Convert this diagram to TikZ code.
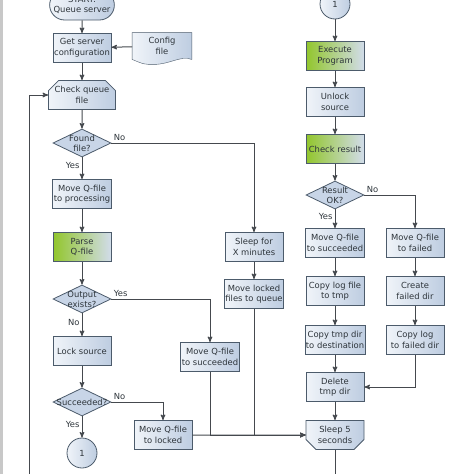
\documentclass[tikz,border=0pt]{standalone}
\usepackage{fontspec}
\setmainfont{DejaVu Sans}
\usepackage{xcolor}
\usetikzlibrary{arrows,shapes.geometric,shapes.misc}
\tikzset{font={\fontsize{8.4pt}{10.5}\selectfont}}
\definecolor{linegray}{HTML}{45494E}
\definecolor{boxedge}{HTML}{4C5B6B}
\definecolor{boxlight}{HTML}{F0F4F9}
\definecolor{boxdark}{HTML}{BECDE1}
\definecolor{leafgreen}{HTML}{92C62C}
\definecolor{diafill}{HTML}{C8D5E7}
\definecolor{framegray}{HTML}{C8C8C8}
\definecolor{textgray}{HTML}{2E353B}
\pgfdeclarelayer{back}
\pgfsetlayers{back,main}
\newcommand{\dtext}[1]{\smash{\makebox[0pt]{\raisebox{-3.5pt}{\begin{tabular}{@{}c@{}}#1\end{tabular}}}}}

\begin{document}
\begin{tikzpicture}[->,>=stealth',x=1pt,y=-1pt,node distance=51pt,thick,
    box/.style={rectangle,draw=boxedge,left color=boxlight,right color=boxdark,text=textgray,
      minimum width=58pt,minimum height=29pt,inner sep=1pt,align=center},
    green box/.style={box,left color=leafgreen,right color=boxdark!70!white},
    loop box/.style={box,chamfered rectangle,chamfered rectangle xsep=5pt,chamfered rectangle ysep=5pt},
    decision/.style={diamond,draw=boxedge,fill=diafill,text=textgray,minimum width=58pt,
      minimum height=28pt,inner sep=0pt},
    link/.style={circle,draw=boxedge,left color=boxlight,right color=boxdark,text=textgray,
      minimum size=30pt,inner sep=0pt},
    terminal/.style={rounded rectangle,draw=boxedge,left color=boxlight,right color=boxdark,
      text=textgray,minimum width=58pt,minimum height=30pt,inner sep=1pt,align=center},
    doc/.style={text=textgray,minimum width=59pt,minimum height=26pt,inner sep=1pt,align=center},
    hv/.style={to path={-| (\tikztotarget) \tikztonodes}},
    vh/.style={to path={|- (\tikztotarget) \tikztonodes}}]

  \useasboundingbox (0,0) rectangle (474,474);
  \clip (0,0) rectangle (474,474);
  \fill[framegray] (0,0) rectangle (2.5,474);

  % queue side
  \node[terminal] (start) at (82,5) {START:\\Queue server};
  \node[box] (getcfg) [below of=start,node distance=43pt] {Get server\\configuration};
  \node[doc] (cfg) at (162,46) {Config\\file};
  \node[loop box,chamfered rectangle corners={north west,north east}] (check) [below of=getcfg,node distance=47pt] {Check queue\\file};
  \node[decision] (found) [below of=check,node distance=48pt] {\dtext{Found\\file?}};
  \node[box] (toproc) [below of=found] {Move Q-file\\to processing};
  \node[green box] (parse) [below of=toproc,node distance=53pt] {Parse\\Q-file};
  \node[decision] (output) [below of=parse,node distance=52pt] {\dtext{Output\\exists?}};
  \node[box] (lock) [below of=output,node distance=52pt] {Lock source};
  \node[decision] (succ) [below of=lock] {\dtext{Succeeded?}};
  \node[link] (jump) [below of=succ] {1};

  \node[box] (sleepx) at (254,247) {Sleep for\\X minutes};
  \node[box] (requeue) [below of=sleepx,node distance=47pt] {Move locked\\files to queue};
  \node[box] (tosuccA) at (210,357) {Move Q-file\\to succeeded};
  \node[box] (tolocked) at (163,435) {Move Q-file\\to locked};

  % program side
  \node[link] (land) at (335,4) {1};
  \node[green box] (exec) [below of=land,node distance=52pt] {Execute\\Program};
  \node[box] (unlock) [below of=exec,node distance=46pt] {Unlock\\source};
  \node[green box] (result) [below of=unlock,node distance=47pt] {Check result};
  \node[decision] (resok) [below of=result,node distance=46pt] {\dtext{Result\\OK?}};
  \node[box] (tosuccB) [below of=resok,node distance=48pt] {Move Q-file\\to succeeded};
  \node[box] (tofail) [right of=tosuccB,node distance=80pt] {Move Q-file\\to failed};
  \node[box] (copylog) [below of=tosuccB,node distance=48pt] {Copy log file\\to tmp};
  \node[box] (mkfail) [below of=tofail,node distance=48pt] {Create\\failed dir};
  \node[box] (copytmp) [below of=copylog,node distance=49pt] {Copy tmp dir\\to destination};
  \node[box] (logfail) [below of=mkfail,node distance=49pt] {Copy log\\to failed dir};
  \node[box] (deltmp) [below of=copytmp,node distance=47pt] {Delete\\tmp dir};
  \node[loop box,chamfered rectangle corners={south west,south east}] (sleep5) [below of=deltmp,node distance=48pt] {Sleep 5\\seconds};

  \coordinate (loopdown) at (335,490);
  \coordinate (loopleft) at (29,490);

  % document outline behind the config text
  \begin{pgfonlayer}{back}
    \draw[-,draw=boxedge,left color=boxlight,right color=boxdark]
      (cfg.north west) -- (cfg.north east) -- (cfg.south east)
      .. controls ([xshift=-12pt,yshift=4pt]cfg.south east) and ([xshift=8pt,yshift=-5pt]cfg.south) .. ([xshift=-8pt,yshift=-5pt]cfg.south)
      .. controls ([xshift=-18pt,yshift=-5pt]cfg.south) .. (cfg.south west) -- cycle;
  \end{pgfonlayer}

  \path[every edge/.style={draw=linegray,line width=1pt},every node/.style={text=textgray,inner sep=2pt}]
    (start) edge (getcfg)
    (cfg) edge (getcfg)
    (getcfg) edge (check)
    (check) edge (found)
    (found) edge node[left,pos=0.35] {Yes} (toproc)
            edge[hv] node[above right,pos=0] {No} (sleepx)
    (toproc) edge (parse)
    (parse) edge (output)
    (output) edge node[left,pos=0.4] {No} (lock)
             edge[hv] node[above right,pos=0] {Yes} (tosuccA)
    (lock) edge (succ)
    (succ) edge node[left,pos=0.4] {Yes} (jump)
           edge[hv] node[above right,pos=0] {No} (tolocked)
    (sleepx) edge (requeue)
    (requeue) edge[vh] (sleep5)
    (tosuccA) edge[vh] (sleep5)
    (tolocked) edge (sleep5)
    (land) edge (exec)
    (exec) edge (unlock)
    (unlock) edge (result)
    (result) edge (resok)
    (resok) edge node[left,pos=0.4] {Yes} (tosuccB)
            edge[hv] node[above right,pos=0] {No} (tofail)
    (tosuccB) edge (copylog)
    (copylog) edge (copytmp)
    (copytmp) edge (deltmp)
    (deltmp) edge (sleep5)
    (tofail) edge (mkfail)
    (mkfail) edge (logfail)
    (logfail) edge[vh] (deltmp);

  \draw[linegray,line width=1pt] (sleep5) -- (loopdown) -- (loopleft) |- (check);
\end{tikzpicture}
\end{document}
